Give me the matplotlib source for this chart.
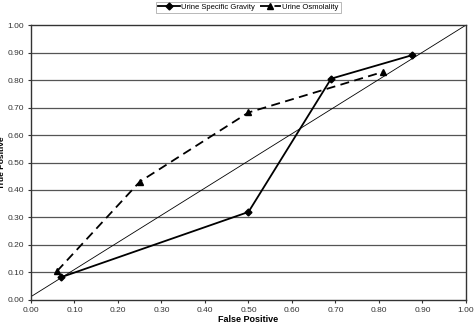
import matplotlib
matplotlib.use('Agg')
import matplotlib.pyplot as plt
import numpy as np

plt.rcParams['font.family'] = ['Liberation Sans', 'DejaVu Sans']

# ROC points
sg_fp = [0.07, 0.50, 0.69, 0.875]
sg_tp = [0.083, 0.32, 0.805, 0.89]
osm_fp = [0.06, 0.25, 0.50, 0.81]
osm_tp = [0.105, 0.43, 0.682, 0.83]
ref_fp = [0.0, 1.0]
ref_tp = [0.012, 1.0]
ticks = np.arange(0, 1.01, 0.1)
tick_labels = ['%.2f' % t for t in ticks]

fig = plt.figure(figsize=(4.74, 3.26), dpi=100)
ax = fig.add_axes([0.0654, 0.08, 0.9176, 0.843])

for t in ticks[1:-1]:
    ax.axhline(t, color='#555555', lw=0.9, zorder=0)

ax.plot(ref_fp, ref_tp, color='black', lw=0.6, zorder=1)
ax.plot(sg_fp, sg_tp, color='black', lw=1.3, marker='D', ms=3.5,
        label='Urine Specific Gravity', zorder=3)
ax.plot(osm_fp, osm_tp, color='black', lw=1.3, ls=(0, (5, 3)), marker='^', ms=4.5,
        label='Urine Osmolality', zorder=3)

ax.set_xlim(0, 1)
ax.set_ylim(0, 1)
ax.set_xticks(ticks)
ax.set_xticklabels(tick_labels)
ax.set_yticks(ticks)
ax.set_yticklabels(tick_labels)
ax.tick_params(labelsize=6, length=2.5, width=0.8, pad=2.5, color='#333333', labelcolor='#333333')
for s in ax.spines.values():
    s.set_linewidth(1.0)
    s.set_color('#333333')

ax.set_xlabel('False Positive', fontsize=6.5, fontweight='bold', labelpad=1)
ax.set_ylabel('True Positive', fontsize=6, fontweight='bold')
ax.yaxis.set_label_coords(-0.058, 0.5)

leg = ax.legend(loc='lower center', bbox_to_anchor=(0.5, 1.045), ncol=2, fontsize=5.5,
                frameon=True, fancybox=False, edgecolor='#999999', handlelength=2.8,
                columnspacing=0.6, handletextpad=0.2, borderpad=0.25, borderaxespad=0)
leg.get_frame().set_linewidth(0.6)

fig.savefig('out.png', dpi=100)
